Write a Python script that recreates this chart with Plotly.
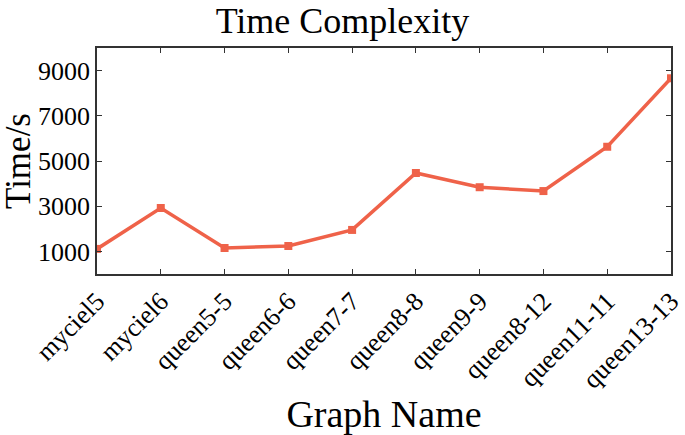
import plotly.graph_objects as go

graphs = ["myciel5", "myciel6", "queen5-5", "queen6-6", "queen7-7",
          "queen8-8", "queen9-9", "queen8-12", "queen11-11", "queen13-13"]
times = [1110, 2920, 1150, 1240, 1950, 4470, 3840, 3670, 5630, 8660]
y_ticks = [1000, 3000, 5000, 7000, 9000]

W, H = 685, 435
L, R, T, B = 97, 14, 48, 161

fig = go.Figure(go.Scatter(
    x=list(range(len(graphs))), y=times, mode="lines+markers",
    line=dict(color="#EF6249", width=3.5),
    marker=dict(symbol="square", size=8, color="#EF6249"),
))

axis_common = dict(showline=True, linecolor="#333", linewidth=1.5, mirror="ticks",
                   ticks="inside", ticklen=5, tickcolor="#333", showgrid=False,
                   zeroline=False, automargin=False)

fig.update_layout(
    width=W, height=H,
    margin=dict(l=L, r=R, t=T, b=B),
    plot_bgcolor="white", paper_bgcolor="white",
    font=dict(family="Liberation Serif, Times New Roman, serif", color="black", size=26),
    title=dict(text="Time Complexity", x=0.5, xanchor="center", xref="container",
               y=1 - 20 / H, yref="container", yanchor="middle", font=dict(size=36)),
    showlegend=False,
    xaxis=dict(tickmode="array", tickvals=list(range(len(graphs))), ticktext=graphs,
               tickangle=-45, range=[0, len(graphs) - 1],
               title=dict(text="Graph Name", font=dict(size=38), standoff=16), **axis_common),
    yaxis=dict(tickvals=y_ticks, range=[0, 10000], **axis_common),
)

# y axis title placed by hand, the margin is too tight for plotly's own placement
fig.add_annotation(text="Time/s", textangle=-90, xref="paper", yref="paper",
                   x=0, y=0.5, xanchor="center", yanchor="middle", xshift=-(L - 18),
                   showarrow=False, font=dict(size=35))

# drop the default body margin so the figure fills the window
fig.write_html("out.html", config={"displayModeBar": False},
               post_script="document.body.style.margin='0';")
